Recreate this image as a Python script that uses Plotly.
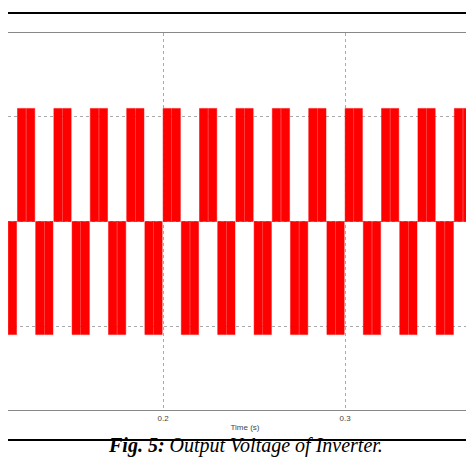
import plotly.graph_objects as go

upper_starts = [0.12, 0.14, 0.16, 0.18, 0.20, 0.22, 0.24, 0.26, 0.28, 0.30, 0.32, 0.34, 0.36]
lower_starts = [0.110, 0.130, 0.150, 0.170, 0.190, 0.210, 0.230, 0.250, 0.270, 0.290, 0.310, 0.330, 0.350, 0.370]
amplitude = 1.08
half_w = 0.0046
gap = 0.0003
x_ticks = [0.2, 0.3]
x_tick_labels = ["0.2", "0.3"]

xs, ys = [], []
def add_pulse(x0, x1, v):
    xs.extend([x0, x0, x1, x1, x0, None])
    ys.extend([0, v, v, 0, 0, None])

for s in upper_starts:
    add_pulse(s, s + half_w, amplitude)
    add_pulse(s + half_w + gap, s + 2 * half_w + gap, amplitude)
for s in lower_starts:
    add_pulse(s, s + half_w, -amplitude)
    add_pulse(s + half_w + gap, s + 2 * half_w + gap, -amplitude)

fig = go.Figure(go.Scatter(x=xs, y=ys, mode="lines", fill="toself", fillcolor="#ff0000",
                           line=dict(color="#ff0000", width=0.5), hoverinfo="skip"))

fig.update_layout(
    width=474, height=474, margin=dict(l=0, r=0, t=25, b=72, autoexpand=False),
    plot_bgcolor="white", paper_bgcolor="white", showlegend=False,
    xaxis=dict(range=[0.1148, 0.3752], tickvals=x_ticks, ticktext=x_tick_labels,
               showgrid=True, gridcolor="#aaaaaa", griddash="dot", gridwidth=1,
               showline=True, linecolor="#888888", linewidth=1, mirror=True,
               ticks="", tickfont=dict(family="Liberation Sans", size=8, color="#444"),
               title=dict(text="Time (s)", font=dict(family="Liberation Sans", size=8, color="#444"), standoff=2),
               zeroline=False),
    yaxis=dict(range=[-1.8, 1.8], tickvals=[-1, 0, 1], showticklabels=False,
               showgrid=True, gridcolor="#aaaaaa", griddash="dot", gridwidth=1, zeroline=False),
    shapes=[
        dict(type="line", xref="paper", yref="paper", x0=-0.01, x1=1.01, y0=1.053, y1=1.053, line=dict(color="black", width=2)),
        dict(type="line", xref="paper", yref="paper", x0=-0.01, x1=1.01, y0=-0.0796, y1=-0.0796, line=dict(color="black", width=2)),
    ],
    annotations=[dict(xref="paper", yref="paper", x=0.5, y=-0.13, showarrow=False,
                      text="<b><i>Fig. 5:</i></b><i> Output Voltage of Inverter.</i>",
                      font=dict(family="Liberation Serif", size=20, color="black"))],
)
fig.write_html("out.html")
